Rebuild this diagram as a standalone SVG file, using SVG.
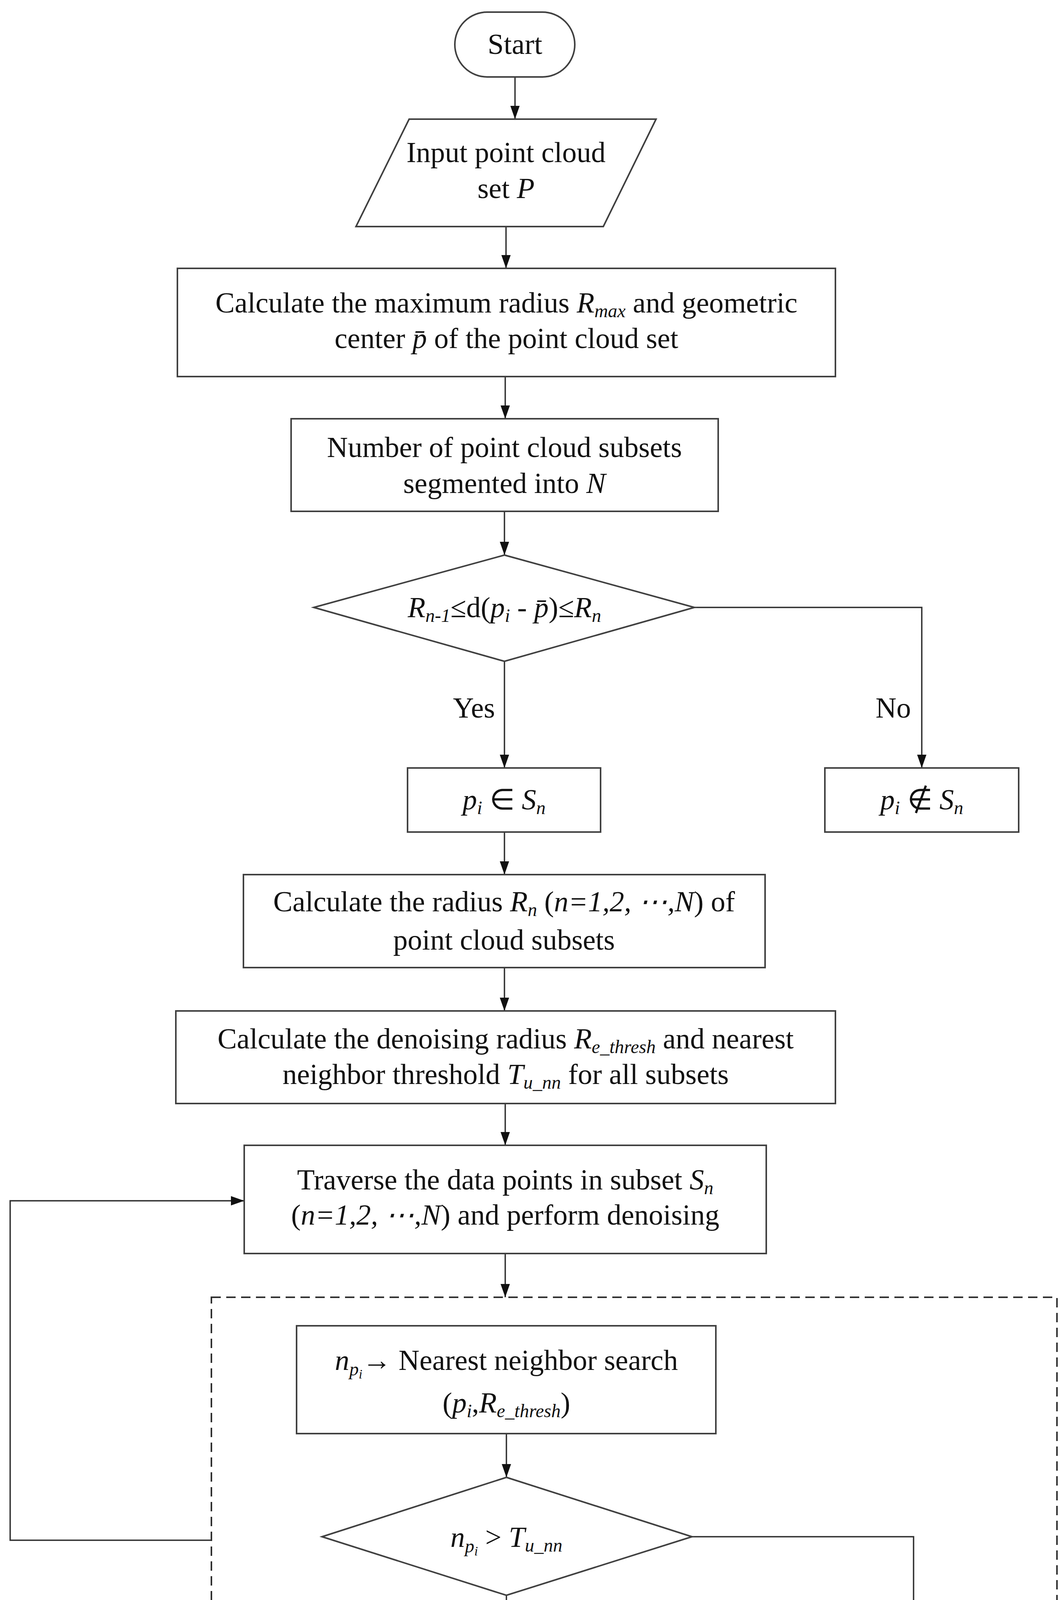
<svg xmlns="http://www.w3.org/2000/svg" width="2723" height="4888" viewBox="0 0 2723 4888">
<style>
.s{fill:#fff;stroke:#404040;stroke-width:4}
.c{fill:none;stroke:#303030;stroke-width:3.5}
text{font-family:"Liberation Serif","Times New Roman",serif;font-size:74px;fill:#111;text-anchor:middle}
.i{font-style:italic}
.sb{font-size:48px;font-style:italic}
</style>
<defs><marker id="a" viewBox="0 0 10 10" refX="10" refY="5" markerWidth="34" markerHeight="34" markerUnits="userSpaceOnUse" orient="auto"><path d="M0,1.5 L10,5 L0,8.5 z" fill="#111"/></marker></defs>
<rect width="2723" height="4888" fill="#fff"/>
<g id="connectors">
<line class="c" x1="1318" y1="197" x2="1318" y2="305" marker-end="url(#a)"/>
<line class="c" x1="1295" y1="580" x2="1295" y2="687" marker-end="url(#a)"/>
<line class="c" x1="1293" y1="964" x2="1293" y2="1072" marker-end="url(#a)"/>
<line class="c" x1="1291" y1="1309" x2="1291" y2="1421" marker-end="url(#a)"/>
<line class="c" x1="1291" y1="1693" x2="1291" y2="1966" marker-end="url(#a)"/>
<polyline class="c" points="1777,1555 2359,1555 2359,1966" marker-end="url(#a)"/>
<line class="c" x1="1291" y1="2130" x2="1291" y2="2239" marker-end="url(#a)"/>
<line class="c" x1="1291" y1="2477" x2="1291" y2="2588" marker-end="url(#a)"/>
<line class="c" x1="1293" y1="2825" x2="1293" y2="2932" marker-end="url(#a)"/>
<line class="c" x1="1293" y1="3209" x2="1293" y2="3321" marker-end="url(#a)"/>
<line class="c" x1="1296" y1="3670" x2="1296" y2="3782" marker-end="url(#a)"/>
<polyline class="c" points="541,3943 26,3943 26,3074 625,3074" marker-end="url(#a)"/>
<line class="c" x1="1296" y1="4084" x2="1296" y2="4329" marker-end="url(#a)"/>
<polyline class="c" points="1771,3934 2338,3934 2338,4329" marker-end="url(#a)"/>
<line class="c" x1="1300" y1="4566" x2="1300" y2="4675" marker-end="url(#a)"/>
<text x="1213" y="1837">Yes</text>
<text x="2286" y="1837">No</text>
<text x="1227" y="4212">Yes</text>
<text x="2277" y="4212">No</text>
</g>
<g id="group"><rect x="541" y="3321" width="2164" height="1245" fill="none" stroke="#303030" stroke-width="4" stroke-dasharray="24,14"/></g>
<g id="start"><rect class="s" x="1164" y="31" width="307" height="166" rx="83"/><text x="1318" y="138">Start</text></g>
<g id="input"><polygon class="s" points="1047,305 1679,305 1544,580 911,580"/><text x="1295" y="415">Input point cloud</text><text x="1295" y="507">set <tspan class="i">P</tspan></text></g>
<g id="calc1"><rect class="s" x="454" y="687" width="1684" height="277"/><text x="1296" y="800">Calculate the maximum radius <tspan class="i">R</tspan><tspan class="sb" dy="12">max</tspan><tspan dy="-12"> and geometric</tspan></text><text x="1296" y="891">center <tspan class="i">p̄</tspan> of the point cloud set</text></g>
<g id="number"><rect class="s" x="745" y="1072" width="1093" height="237"/><text x="1291" y="1170">Number of point cloud subsets</text><text x="1291" y="1262">segmented into <tspan class="i">N</tspan></text></g>
<g id="cond1"><polygon class="s" points="1291,1421 1777,1555 1291,1693 803,1555"/><text x="1291" y="1580"><tspan class="i">R</tspan><tspan class="sb" dy="12">n-1</tspan><tspan dy="-12">≤d(</tspan><tspan class="i">p</tspan><tspan class="sb" dy="12">i</tspan><tspan dy="-12"> - </tspan><tspan class="i">p̄</tspan>)≤<tspan class="i">R</tspan><tspan class="sb" dy="12">n</tspan></text></g>
<g id="inS"><rect class="s" x="1043" y="1966" width="494" height="164"/><text x="1290" y="2072"><tspan class="i">p</tspan><tspan class="sb" dy="12">i</tspan><tspan dy="-12"> ∈ </tspan><tspan class="i">S</tspan><tspan class="sb" dy="12">n</tspan></text></g>
<g id="notS"><rect class="s" x="2111" y="1966" width="496" height="164"/><text x="2359" y="2072"><tspan class="i">p</tspan><tspan class="sb" dy="12">i</tspan><tspan dy="-12"> ∉ </tspan><tspan class="i">S</tspan><tspan class="sb" dy="12">n</tspan></text></g>
<g id="radius"><rect class="s" x="623" y="2239" width="1335" height="238"/><text x="1290" y="2333">Calculate the radius <tspan class="i">R</tspan><tspan class="sb" dy="12">n</tspan><tspan dy="-12"> (</tspan><tspan class="i">n=1,2, ⋯,N</tspan>) of</text><text x="1290" y="2431">point cloud subsets</text></g>
<g id="denoise"><rect class="s" x="450" y="2588" width="1688" height="237"/><text x="1294" y="2684">Calculate the denoising radius <tspan class="i">R</tspan><tspan class="sb" dy="12">e_thresh</tspan><tspan dy="-12"> and nearest</tspan></text><text x="1294" y="2775">neighbor threshold <tspan class="i">T</tspan><tspan class="sb" dy="12">u_nn</tspan><tspan dy="-12"> for all subsets</tspan></text></g>
<g id="traverse"><rect class="s" x="625" y="2932" width="1336" height="277"/><text x="1293" y="3045">Traverse the data points in subset <tspan class="i">S</tspan><tspan class="sb" dy="12">n</tspan></text><text x="1293" y="3135">(<tspan class="i">n=1,2, ⋯,N</tspan>) and perform denoising</text></g>
<g id="search"><rect class="s" x="759" y="3394" width="1073" height="276"/><text x="1296" y="3507"><tspan class="i">n</tspan><tspan class="sb" dy="14">p</tspan><tspan font-size="34" class="i" dy="8">i</tspan><tspan dy="-22">→ Nearest neighbor search</tspan></text><text x="1296" y="3616">(<tspan class="i">p</tspan><tspan class="sb" dy="12">i</tspan><tspan dy="-12">,</tspan><tspan class="i">R</tspan><tspan class="sb" dy="12">e_thresh</tspan><tspan dy="-12">)</tspan></text></g>
<g id="cond2"><polygon class="s" points="1296,3782 1771,3934 1296,4084 824,3934"/><text x="1296" y="3960"><tspan class="i">n</tspan><tspan class="sb" dy="14">p</tspan><tspan font-size="34" class="i" dy="8">i</tspan><tspan dy="-22"> &gt; </tspan><tspan class="i">T</tspan><tspan class="sb" dy="12">u_nn</tspan></text></g>
<g id="inliers"><rect class="s" x="1146" y="4329" width="302" height="168"/><text x="1297" y="4437">Inliers</text></g>
<g id="outliers"><rect class="s" x="2186" y="4329" width="302" height="168"/><text x="2337" y="4437">Outliers</text></g>
<g id="end"><rect class="s" x="1118" y="4675" width="369" height="185" rx="92"/><text x="1302" y="4792">End</text></g>
</svg>
